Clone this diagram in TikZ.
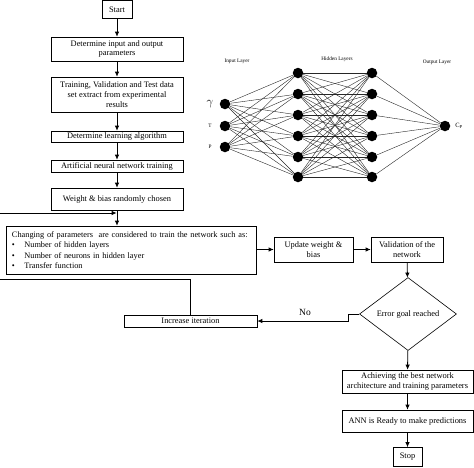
\documentclass[tikz,border=0pt]{standalone}
\usepackage{fontspec}
\setmainfont{Liberation Serif}
\usetikzlibrary{arrows.meta,shapes.geometric}
\begin{document}
\begin{tikzpicture}[x=1pt,y=-1pt,
 box/.style={draw, line width=0.6pt, inner sep=0pt, align=center, font=\fontsize{8.4}{9.8}\selectfont},
 arr/.style={-{Latex[length=5pt,width=4.5pt]}, line width=0.8pt},
 neuron/.style={circle, fill=black, inner sep=0pt, minimum size=10.5pt},
 syn/.style={line width=0.4pt, black!85},
 lbl/.style={font=\fontsize{5.3}{6}\selectfont, inner sep=0pt}]
\useasboundingbox (0,0) rectangle (474,467);

% flowchart boxes
\node[box, minimum width=30, minimum height=18] (start) at (117,9.5) {Start};
\node[box, minimum width=132, minimum height=24] (b2) at (117,49) {Determine input and output\\parameters};
\node[box, minimum width=132, minimum height=35] (b3) at (117,94.5) {Training, Validation and Test data\\set extract from experimental\\results};
\node[box, minimum width=132, minimum height=11] (b4) at (117,136.5) {Determine learning algorithm};
\node[box, minimum width=132, minimum height=12] (b5) at (117,166) {Artificial neural network training};
\node[box, minimum width=132, minimum height=22] (b6) at (117,199) {Weight \& bias randomly chosen};
\node[box, minimum width=250, minimum height=48, align=left, inner xsep=6pt, text width=238pt, font=\fontsize{8.3}{10.3}\selectfont] (b7) at (131,250)
 {\makebox[238pt][l]{Changing of parameters\ \ are considered to train the network such as:}\\
  \textbullet\hspace{9.5pt}Number of hidden layers\\
  \textbullet\hspace{9.5pt}Number of neurons in hidden layer\\
  \textbullet\hspace{9.5pt}Transfer function};
\node[box, minimum width=79, minimum height=25] (upd) at (313.5,249.5) {Update weight \&\\bias};
\node[box, minimum width=72, minimum height=25] (val) at (407,249.5) {Validation of the\\network};
\node[box, diamond, minimum width=97, minimum height=73] (dia) at (408,314) {Error goal reached};
\node[box, minimum width=133, minimum height=12] (inc) at (190.5,321) {Increase iteration};
\node[box, minimum width=131, minimum height=23] (ach) at (407.5,381.5) {Achieving the best network\\architecture and training parameters};
\node[box, minimum width=131, minimum height=22] (ann) at (407.5,421) {ANN is Ready to make predictions};
\node[box, minimum width=29, minimum height=19] (stop) at (407.5,457) {Stop};
\node[font=\fontsize{9.5}{10}\selectfont, inner sep=0pt] (no) at (305,312) {No};

% flowchart connectors
\draw[arr] (start) -- (b2);
\draw[arr] (b2) -- (b3);
\draw[arr] (b3) -- (b4);
\draw[arr] (b4) -- (b5);
\draw[arr] (b5) -- (b6);
\draw[arr] (b6) -- (b7.north -| b6.south);
\draw[arr] (b7.east |- upd.west) -- (upd);
\draw[arr] (upd) -- (val);
\draw[arr] (val) -- (dia);
\draw[arr] (dia.west) -- (348,314) -- (348,321) -- (inc.east);
\draw[arr] (dia) -- (ach);
\draw[arr] (ach) -- (ann);
\draw[arr] (ann) -- (stop);
\coordinate (j) at (116.6,213);
\draw[line width=0.6pt] (inc.north) -- (190.5,279) -- (-1,279) -- (-1,213) -- (60,213);
\draw[arr] (60,213) -- (j);

% neural network
\foreach \i/\y in {1/104,2/126,3/147} \node[neuron] (i\i) at (225,\y) {};
\foreach \i/\y in {1/73,2/94,3/115,4/136,5/157,6/177} {
  \node[neuron] (a\i) at (298,\y) {};
  \node[neuron] (b\i) at (372,\y) {};
}
\node[neuron] (o) at (445,126) {};
\foreach \i in {1,2,3} \foreach \j in {1,...,6} \draw[syn] (i\i) -- (a\j);
\foreach \i in {1,...,6} \foreach \j in {1,...,6} \draw[syn] (a\i) -- (b\j);
\foreach \j in {1,...,6} \draw[syn] (b\j) -- (o);

\node[lbl] (lin) at (237,61) {Input Layer};
\node[lbl] (lhid) at (337,59) {Hidden Layers};
\node[lbl] (lout) at (437,62) {Output Layer};
\node[font=\fontsize{12}{12}\selectfont, inner sep=0pt] (lg) at (210,104) {$\gamma$};
\node[lbl] (lt) at (210,126) {T};
\node[lbl] (lp) at (210,147) {P};
\node[lbl, font=\fontsize{6.5}{6.5}\selectfont] (lc) at (459,126) {C\textsubscript{P}};
\end{tikzpicture}
\end{document}
